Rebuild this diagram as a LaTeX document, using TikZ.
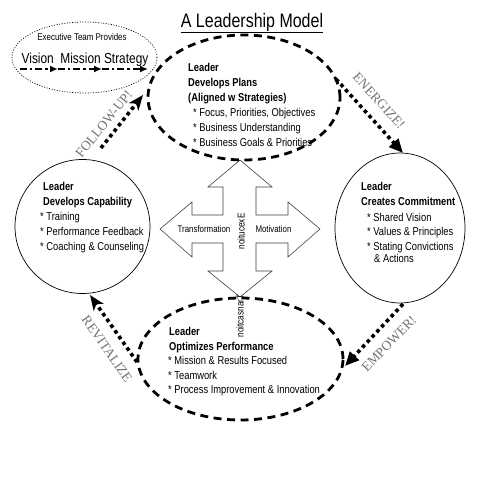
\documentclass[tikz,border=0pt]{standalone}
\usepackage{fontspec}
\setmainfont{Liberation Sans}[FakeStretch=0.82]
\newfontfamily\capsfont{Liberation Serif}
\usetikzlibrary{shapes.geometric,arrows.meta}
\begin{document}
\begin{tikzpicture}[x=1pt,y=-1pt,
  dashell/.style={ellipse, draw, line width=2.8pt, dash pattern=on 8pt off 5.5pt, inner sep=0pt},
  thincirc/.style={ellipse, draw, line width=0.7pt, inner sep=0pt},
  execell/.style={ellipse, draw, line width=0.7pt, dash pattern=on 1pt off 1.6pt, inner sep=0pt},
  txt/.style={anchor=base west, inner sep=0pt, font=\fontsize{11.4}{13}\selectfont},
  hd/.style={anchor=base west, inner sep=0pt, font=\bfseries\fontsize{11.4}{13}\selectfont},
  dotarrow/.style={line width=3.6pt, dash pattern=on 3.6pt off 3.4pt},
  triarrow/.style={dotarrow, -{Triangle[length=14pt,width=12pt]}},
  stearrow/.style={dotarrow, -{Stealth[length=15pt,width=12pt,inset=4pt]}},
  flow/.style={font=\capsfont\fontsize{13.5}{14}\selectfont, text=black!55, inner sep=0pt},
  execline/.style={line width=2.4pt, dash pattern=on 7pt off 3pt on 2.4pt off 3pt, -{Latex[length=8pt,width=7pt]}},
  crosslbl/.style={inner sep=0pt, font=\fontsize{9.6}{11}\selectfont},
  vlbl/.style={inner sep=0pt, rotate=90, font=\fontsize{10}{11}\selectfont}
]
\fill[white] (0,0) rectangle (480,480);
\useasboundingbox (0,0) rectangle (480,480);

% title
\node[anchor=base, inner sep=0pt, font=\fontsize{19.5}{22}\selectfont] (title) at (252,27) {\underline{A Leadership Model}};

% executive team ellipse
\node[execell, minimum width=145pt, minimum height=71pt] (exec) at (84.5,57.5) {};
\node[anchor=base, inner sep=0pt, font=\fontsize{9.7}{11}\selectfont] (exect) at (82,40) {Executive Team Provides};
\node[anchor=base, inner sep=0pt, font=\fontsize{14.5}{16}\selectfont] (vms) at (85,63) {Vision\ \ Mission Strategy};
\coordinate (ex0) at (20,69);
\coordinate (ex1) at (58,69);
\coordinate (ex2) at (102,69);
\coordinate (ex3) at (148,69);
\draw[execline] (ex0) -- (ex1);
\draw[execline] (ex1) -- (ex2);
\draw[execline] (ex2) -- (ex3);

% central cross arrow
\draw[line width=0.6pt, draw=black!75, fill=white]
  (240,160) -- (272,187) -- (256,187) -- (256,215) -- (288,215) -- (288,202)
  -- (320,229) -- (288,257) -- (288,243) -- (256,243) -- (256,271) -- (272,271)
  -- (240,297) -- (208,271) -- (223,271) -- (223,243) -- (192,243) -- (192,257)
  -- (160,229) -- (192,202) -- (192,215) -- (223,215) -- (223,187) -- (208,187) -- cycle;
\node[crosslbl] (transf) at (204,229) {Transformation};
\node[crosslbl] (motiv) at (273.5,229) {Motivation};
\node[vlbl] (execu) at (241,231.5) {noitucexE};
\node[vlbl] (transa) at (240,316) {noitcasnarT};

% main shapes
\node[dashell, minimum width=192pt, minimum height=125pt] (plans) at (244,97.5) {};
\node[dashell, minimum width=205pt, minimum height=122pt] (perf) at (240.5,359) {};
\node[thincirc, minimum width=135pt, minimum height=134pt] (capab) at (82.5,226.5) {};
\node[thincirc, minimum width=130pt, minimum height=150pt] (commit) at (400,228) {};

% top ellipse text
\node[hd] (p1) at (188,71) {Leader};
\node[hd] (p2) at (188,86) {Develops Plans};
\node[hd] (p3) at (188,101) {(Aligned w Strategies)};
\node[txt] (p4) at (193,116) {* Focus, Priorities, Objectives};
\node[txt] (p5) at (193,131) {* Business Understanding};
\node[txt] (p6) at (193,146) {* Business Goals \& Priorities};

% left circle text
\node[hd] (c1) at (43,190) {Leader};
\node[hd] (c2) at (43,205) {Develops Capability};
\node[txt] (c3) at (40,220) {* Training};
\node[txt] (c4) at (40,235) {* Performance Feedback};
\node[txt] (c5) at (40,250) {* Coaching \& Counseling};

% right circle text
\node[hd] (m1) at (361,190) {Leader};
\node[hd] (m2) at (361,205) {Creates Commitment};
\node[txt] (m3) at (367,221) {* Shared Vision};
\node[txt] (m4) at (367,235) {* Values \& Principles};
\node[txt] (m5) at (367,250) {* Stating Convictions};
\node[txt] (m6) at (374,262) {\& Actions};

% bottom ellipse text
\node[hd] (o1) at (169,335) {Leader};
\node[hd] (o2) at (169,350) {Optimizes Performance};
\node[txt] (o3) at (168,364) {* Mission \& Results Focused};
\node[txt] (o4) at (168,379) {* Teamwork};
\node[txt] (o5) at (168,393) {* Process Improvement \& Innovation};

% dotted arrows
\coordinate (fuS) at (101,148);
\coordinate (fuE) at (143,95);
\coordinate (enS) at (336,79);
\coordinate (enE) at (403,153);
\coordinate (emS) at (403,304);
\coordinate (emE) at (345,366);
\coordinate (rvS) at (137,362);
\coordinate (rvE) at (90,295);
\draw[stearrow] (fuS) -- (fuE);
\draw[triarrow] (enS) -- (enE);
\draw[triarrow] (emS) -- (emE);
\draw[stearrow] (rvS) -- (rvE);

\node[flow, rotate=51] (follow) at (104,124) {FOLLOW-UP!};
\node[flow, rotate=-48] (energ) at (379,101) {ENERGIZE!};
\node[flow, rotate=46] (empow) at (389,344) {EMPOWER!};
\node[flow, rotate=-55] (revit) at (107,349) {REVITALIZE};
\end{tikzpicture}
\end{document}
